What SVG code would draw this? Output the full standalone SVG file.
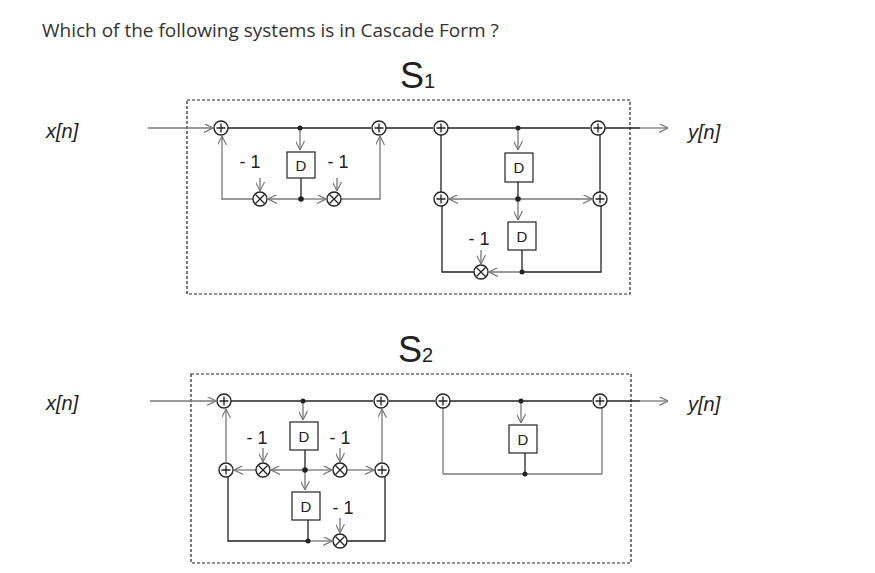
<svg xmlns="http://www.w3.org/2000/svg" width="875" height="573" viewBox="0 0 875 573">
<style>
.w{stroke:#222;stroke-width:1.3;fill:none}
.g{stroke:#777;stroke-width:1.3;fill:none}
.box{stroke:#222;stroke-width:1.2;stroke-dasharray:3,2;fill:none}
.d{fill:#fff;stroke:#222;stroke-width:1.2}
.c{fill:#fff;stroke:#222;stroke-width:1.4}
.t{font-family:"Liberation Sans",sans-serif;fill:#222}
.dt{fill:#222}
</style>
<defs>
<marker id="a" viewBox="0 0 10 10" refX="10" refY="5" markerWidth="9" markerHeight="9" orient="auto" markerUnits="userSpaceOnUse"><path d="M0,0 L10,5 L0,10" fill="none" stroke="#777" stroke-width="1.3"/></marker>
<g id="add"><circle r="7" class="c"/><path d="M-4.5,0H4.5M0,-4.5V4.5" stroke="#222" stroke-width="1.3"/></g>
<g id="mul"><circle r="7" class="c"/><path d="M-4.5,-4.5L4.5,4.5M4.5,-4.5L-4.5,4.5" stroke="#222" stroke-width="1.3"/></g>
</defs>
<text x="42" y="37" font-size="19" fill="#333" font-family="'Open Sans',sans-serif">Which of the following systems is in Cascade Form ?</text>
<text class="t" x="400" y="88" font-size="36">S<tspan font-size="20">1</tspan></text>
<text class="t" x="398" y="362" font-size="36">S<tspan font-size="20">2</tspan></text>
<text class="t" x="46" y="138" font-size="20" font-style="italic">x[n]</text>
<text class="t" x="46" y="410" font-size="20" font-style="italic">x[n]</text>
<text class="t" x="688" y="139" font-size="20" font-style="italic">y[n]</text>
<text class="t" x="688" y="411" font-size="20" font-style="italic">y[n]</text>
<rect class="box" x="187" y="100" width="443" height="194"/>
<rect class="box" x="191" y="374" width="440" height="189"/>
<g id="connectors">
<path class="g" d="M148,128H213" marker-end="url(#a)"/>
<path class="w" d="M228,128H371"/>
<path class="g" d="M300,128V150" marker-end="url(#a)"/>
<path class="w" d="M301,178V199"/>
<path class="g" d="M301,199H268" marker-end="url(#a)"/>
<path class="g" d="M253,199H222V136" marker-end="url(#a)"/>
<path class="g" d="M301,199H326" marker-end="url(#a)"/>
<path class="g" d="M341,199H380V136" marker-end="url(#a)"/>
<path class="g" d="M260,178V191" marker-end="url(#a)"/>
<path class="g" d="M337,178V191" marker-end="url(#a)"/>
<path class="w" d="M386,128H433"/>
<path class="w" d="M448,128H590"/>
<path class="g" d="M518,128V150" marker-end="url(#a)"/>
<path class="w" d="M518,182V199"/>
<path class="g" d="M518,199H449" marker-end="url(#a)"/>
<path class="g" d="M518,199H592" marker-end="url(#a)"/>
<path class="g" d="M518,199V220" marker-end="url(#a)"/>
<path class="w" d="M441,192V135"/>
<path class="w" d="M600,192V135"/>
<path class="w" d="M522,250V272"/>
<path class="g" d="M522,272H489" marker-end="url(#a)"/>
<path class="w" d="M522,272H601V206"/>
<path class="w" d="M474,272H442V206"/>
<path class="g" d="M481,250V264" marker-end="url(#a)"/>
<path class="w" d="M605,128H640"/>
<path class="g" d="M640,128H668" marker-end="url(#a)"/>
<path class="g" d="M150,401H216" marker-end="url(#a)"/>
<path class="w" d="M231,401H373"/>
<path class="g" d="M303,401V420" marker-end="url(#a)"/>
<path class="w" d="M305,450V470"/>
<path class="g" d="M305,470H271" marker-end="url(#a)"/>
<path class="g" d="M256,470H234" marker-end="url(#a)"/>
<path class="g" d="M226,462V409" marker-end="url(#a)"/>
<path class="g" d="M305,470H332" marker-end="url(#a)"/>
<path class="g" d="M347,470H374" marker-end="url(#a)"/>
<path class="g" d="M382,462V409" marker-end="url(#a)"/>
<path class="g" d="M263,448V462" marker-end="url(#a)"/>
<path class="g" d="M340,448V462" marker-end="url(#a)"/>
<path class="g" d="M305,470V490" marker-end="url(#a)"/>
<path class="w" d="M308,520V541"/>
<path class="w" d="M308,541H228V477"/>
<path class="g" d="M308,541H332" marker-end="url(#a)"/>
<path class="w" d="M347,541H385V477"/>
<path class="g" d="M340,518V533" marker-end="url(#a)"/>
<path class="w" d="M389,401H435"/>
<path class="w" d="M450,401H592"/>
<path class="g" d="M521,401V423" marker-end="url(#a)"/>
<path class="w" d="M525,453V474"/>
<path class="g" d="M443,474H602"/>
<path class="g" d="M443,474V408"/>
<path class="g" d="M602,474V408"/>
<path class="w" d="M607,401H640"/>
<path class="g" d="M640,401H668" marker-end="url(#a)"/>
</g>
<g class="dt"><circle cx="300" cy="128" r="2.5"/><circle cx="301" cy="199" r="2.8"/><circle cx="518" cy="128" r="2.5"/><circle cx="518" cy="199" r="2.8"/><circle cx="522" cy="272" r="2.5"/>
<circle cx="303" cy="401" r="2.5"/><circle cx="305" cy="470" r="2.8"/><circle cx="308" cy="541" r="2.5"/><circle cx="521" cy="401" r="2.5"/><circle cx="525" cy="474" r="2.5"/></g>
<g id="s1-nodes">
<use href="#add" x="221" y="128"/><use href="#add" x="379" y="128"/><use href="#add" x="441" y="128"/><use href="#add" x="441" y="199"/><use href="#add" x="600" y="199"/><use href="#add" x="598" y="128"/>
<use href="#mul" x="260" y="199"/><use href="#mul" x="334" y="199"/><use href="#mul" x="481" y="272"/>
<g id="s1-d1"><rect class="d" x="287" y="152" width="28" height="26"/><text class="t" x="301" y="171" font-size="15" text-anchor="middle">D</text></g>
<g id="s1-d2"><rect class="d" x="505" y="153" width="28" height="29"/><text class="t" x="519" y="173" font-size="15" text-anchor="middle">D</text></g>
<g id="s1-d3"><rect class="d" x="508" y="222" width="28" height="28"/><text class="t" x="522" y="242" font-size="15" text-anchor="middle">D</text></g>
<text class="t" x="250" y="168" font-size="18" text-anchor="middle">- 1</text>
<text class="t" x="338" y="168" font-size="18" text-anchor="middle">- 1</text>
<text class="t" x="479" y="245" font-size="18" text-anchor="middle">- 1</text>
</g>
<g id="s2-nodes">
<use href="#add" x="224" y="401"/><use href="#add" x="381" y="401"/><use href="#add" x="443" y="401"/><use href="#add" x="600" y="401"/><use href="#add" x="226" y="470"/><use href="#add" x="382" y="470"/>
<use href="#mul" x="263" y="470"/><use href="#mul" x="340" y="470"/><use href="#mul" x="340" y="541"/>
<g id="s2-d1"><rect class="d" x="290" y="422" width="28" height="28"/><text class="t" x="304" y="442" font-size="15" text-anchor="middle">D</text></g>
<g id="s2-d2"><rect class="d" x="292" y="492" width="28" height="28"/><text class="t" x="306" y="512" font-size="15" text-anchor="middle">D</text></g>
<g id="s2-d3"><rect class="d" x="509" y="425" width="28" height="28"/><text class="t" x="523" y="445" font-size="15" text-anchor="middle">D</text></g>
<text class="t" x="257" y="444" font-size="18" text-anchor="middle">- 1</text>
<text class="t" x="340" y="444" font-size="18" text-anchor="middle">- 1</text>
<text class="t" x="343" y="514" font-size="18" text-anchor="middle">- 1</text>
</g>
</svg>
